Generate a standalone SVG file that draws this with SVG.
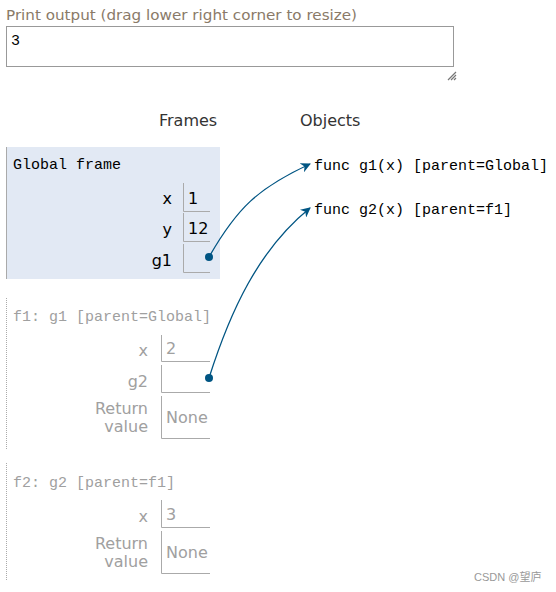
<svg xmlns="http://www.w3.org/2000/svg" width="556" height="592" viewBox="0 0 556 592">
<style>
.sans{font-family:"DejaVu Sans","Liberation Sans",sans-serif}
.mono{font-family:"Liberation Mono","DejaVu Sans Mono",monospace}
.lbl{font-family:"DejaVu Sans","Liberation Sans",sans-serif;font-size:16px;text-anchor:end}
.val{font-family:"DejaVu Sans","Liberation Sans",sans-serif;font-size:16px}
.box{fill:none;stroke:#aaaaaa;stroke-width:1}
.dim{fill:#a0a0a0}
.edge{fill:none;stroke:#005583;stroke-width:1.3}
</style>
<defs>
<marker id="ah" viewBox="0 0 10 10" refX="9" refY="5" markerWidth="10" markerHeight="10" markerUnits="userSpaceOnUse" orient="auto">
<path d="M0,0 L10,5 L0,10 L3,5 Z" fill="#005583"/>
</marker>
</defs>
<rect width="556" height="592" fill="#ffffff"/>
<g id="print-output">
<text x="6" y="20" class="sans" font-size="14.5" fill="#8a7a68" textLength="351" lengthAdjust="spacingAndGlyphs">Print output (drag lower right corner to resize)</text>
<rect x="6.5" y="26.5" width="447" height="40" fill="#ffffff" stroke="#999999"/>
<text x="11" y="45" class="mono" font-size="15" fill="#000">3</text>
<path d="M448,80 L456,72 M451,80 L456,75 M454,80 L456,78" stroke="#777" stroke-width="1.2"/>
</g>
<g id="headers">
<text x="159" y="126" class="sans" font-size="16" fill="#333">Frames</text>
<text x="300" y="126" class="sans" font-size="16" fill="#333">Objects</text>
</g>
<g id="global-frame">
<rect x="6" y="147" width="214" height="132" fill="#e2e9f4"/>
<line x1="6.5" y1="147" x2="6.5" y2="279" stroke="#aaaaaa"/>
<text x="13" y="169" class="mono" font-size="15" fill="#000">Global frame</text>
<text x="172" y="204" class="lbl" fill="#000">x</text>
<path d="M183.5,183 V211.5 H210" class="box"/>
<text x="188" y="204" class="val" fill="#000">1</text>
<text x="172" y="235" class="lbl" fill="#000">y</text>
<path d="M183.5,213 V241.5 H210" class="box"/>
<text x="188" y="234" class="val" fill="#000">12</text>
<text x="172" y="266" class="lbl" fill="#000">g1</text>
<path d="M183.5,244 V272.5 H210" class="box"/>
</g>
<g id="f1-frame">
<line x1="6.5" y1="298" x2="6.5" y2="450" stroke="#aaaaaa" stroke-dasharray="1,1"/>
<text x="13" y="321" class="mono dim" font-size="15">f1: g1 [parent=Global]</text>
<text x="148" y="356" class="lbl dim">x</text>
<path d="M161.5,335 V361.5 H210" class="box"/>
<text x="166" y="354" class="val dim">2</text>
<text x="148" y="387" class="lbl dim">g2</text>
<path d="M161.5,365 V392.5 H210" class="box"/>
<text x="148" y="414" class="lbl dim" font-size="15">Return</text>
<text x="148" y="432" class="lbl dim" font-size="15">value</text>
<path d="M161.5,396 V438.5 H210" class="box"/>
<text x="166" y="423" class="val dim">None</text>
</g>
<g id="f2-frame">
<line x1="6.5" y1="463" x2="6.5" y2="580" stroke="#aaaaaa" stroke-dasharray="1,1"/>
<text x="13" y="487" class="mono dim" font-size="15">f2: g2 [parent=f1]</text>
<text x="148" y="522" class="lbl dim">x</text>
<path d="M161.5,500 V527.5 H210" class="box"/>
<text x="166" y="520" class="val dim">3</text>
<text x="148" y="549" class="lbl dim" font-size="15">Return</text>
<text x="148" y="567" class="lbl dim" font-size="15">value</text>
<path d="M161.5,531 V573.5 H210" class="box"/>
<text x="166" y="558" class="val dim">None</text>
</g>
<g id="func-g1">
<text x="314" y="170" class="mono" font-size="15" fill="#000">func g1(x) [parent=Global]</text>
</g>
<g id="func-g2">
<text x="314" y="214" class="mono" font-size="15" fill="#000">func g2(x) [parent=f1]</text>
</g>
<g id="connectors">
<circle cx="209" cy="257" r="4" fill="#005583"/>
<path d="M209,257 C237,208 258,188 310,164" class="edge" marker-end="url(#ah)"/>
<circle cx="209" cy="378" r="4" fill="#005583"/>
<path d="M209,378 C230,312 258,250 310,208" class="edge" marker-end="url(#ah)"/>
</g>
<text x="474" y="581" font-family="'Liberation Sans','Noto Sans CJK SC',sans-serif" font-size="11" fill="#999">CSDN @望庐</text>
</svg>
